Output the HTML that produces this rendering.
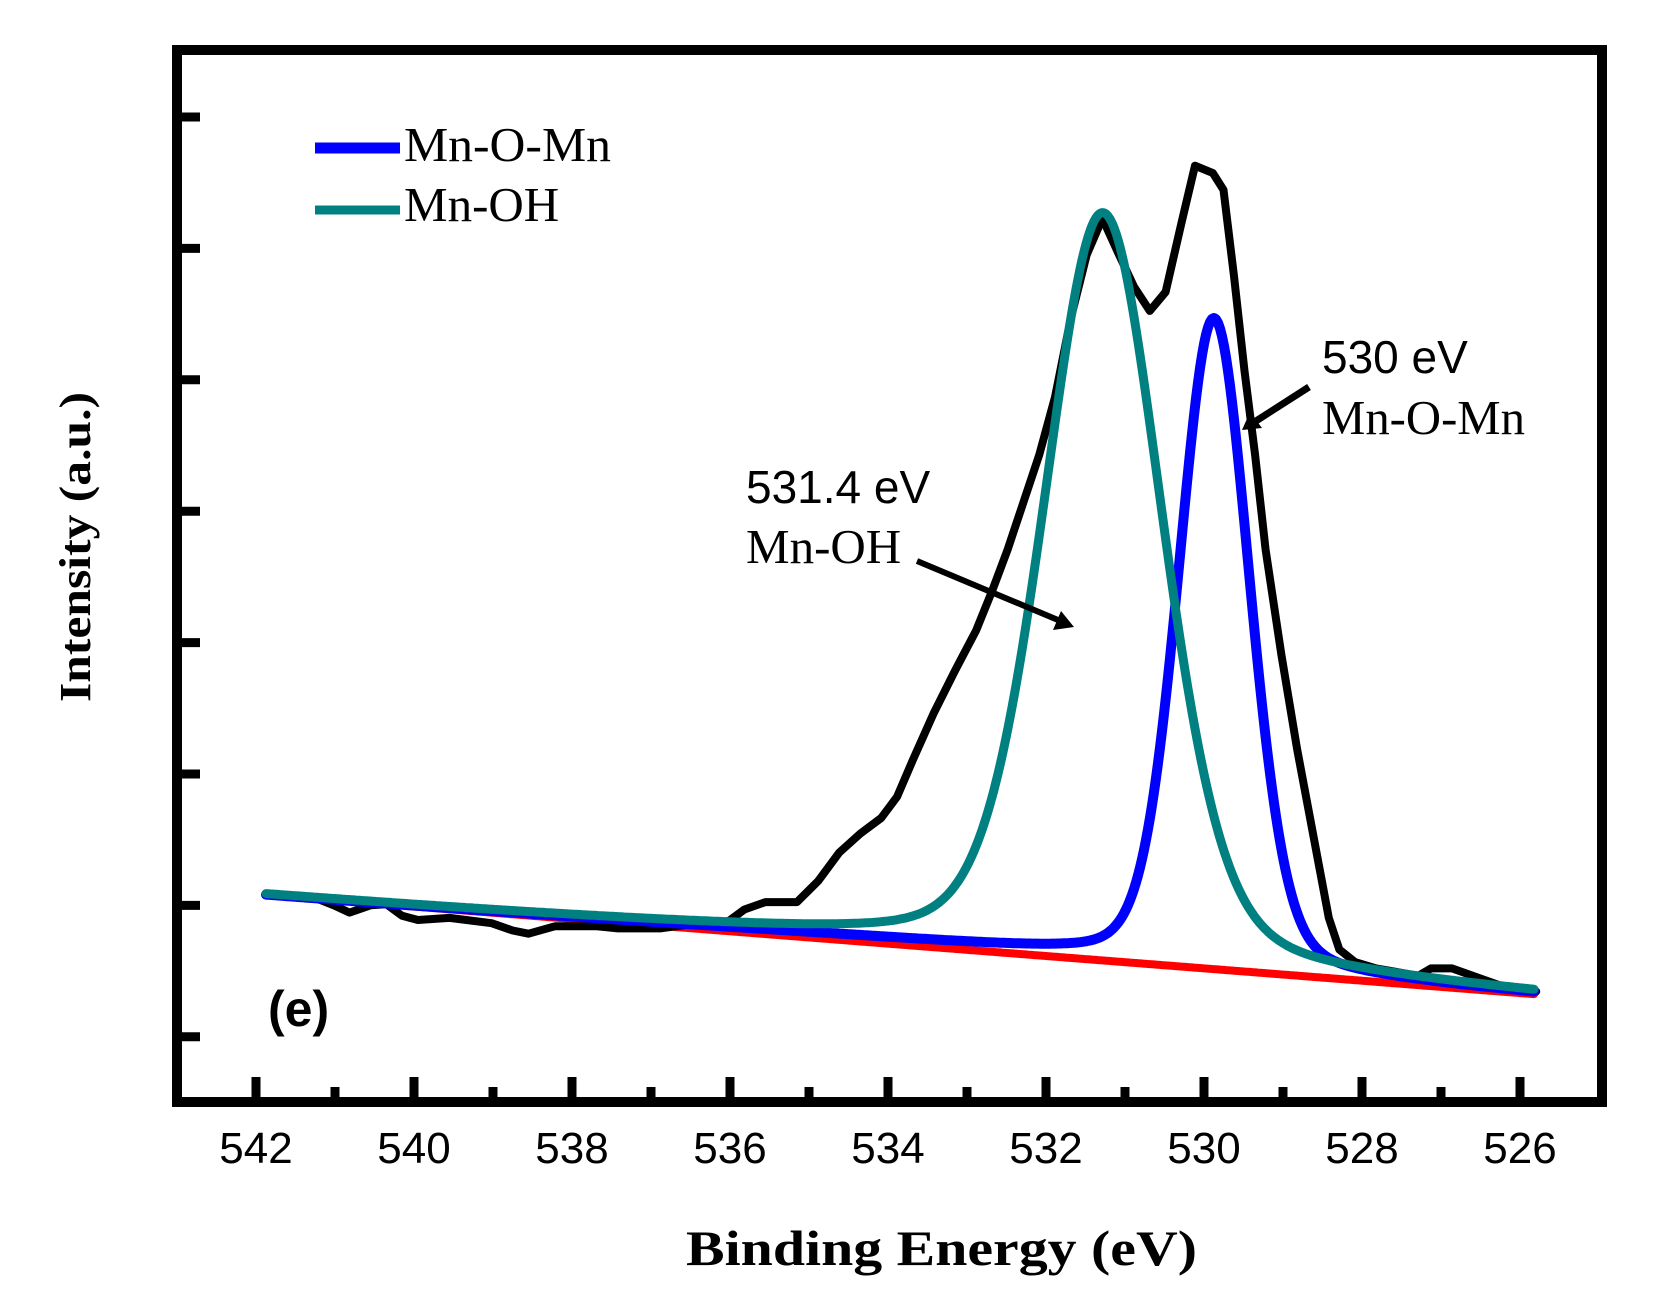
<!DOCTYPE html>
<html><head><meta charset="utf-8"><style>
html,body{margin:0;padding:0;background:#fff;}
svg{display:block;}
</style></head><body>
<svg id="s" width="1656" height="1310" viewBox="0 0 1656 1310" xmlns="http://www.w3.org/2000/svg">
<rect width="1656" height="1310" fill="#fff"/>
<g id="curves" fill="none" stroke-linejoin="round" stroke-linecap="round"></g>
<rect x="177" y="50" width="1425" height="1052" fill="none" stroke="#000" stroke-width="10"/>
<g id="ticks" stroke="#000" stroke-width="9"></g>
<g font-family="'Liberation Sans',sans-serif" font-size="44" text-anchor="middle" fill="#000">
<text x="256" y="1163">542</text><text x="414" y="1163">540</text><text x="572" y="1163">538</text>
<text x="730" y="1163">536</text><text x="888" y="1163">534</text><text x="1046" y="1163">532</text>
<text x="1204" y="1163">530</text><text x="1362" y="1163">528</text><text x="1520" y="1163">526</text>
</g>
<text x="686" y="1265" font-family="'Liberation Serif',serif" font-weight="bold" font-size="50" textLength="511" lengthAdjust="spacingAndGlyphs">Binding Energy (eV)</text>
<text transform="translate(90,702) rotate(-90)" font-family="'Liberation Serif',serif" font-weight="bold" font-size="44" textLength="310" lengthAdjust="spacingAndGlyphs">Intensity (a.u.)</text>
<text x="268" y="1026" font-family="'Liberation Sans',sans-serif" font-weight="bold" font-size="50">(e)</text>
<line x1="315" y1="148" x2="400" y2="148" stroke="#0000ff" stroke-width="11"/>
<line x1="315" y1="210" x2="400" y2="210" stroke="#008080" stroke-width="9"/>
<g font-family="'Liberation Serif',serif" font-size="49" fill="#000">
<text x="404" y="161" textLength="207" lengthAdjust="spacingAndGlyphs">Mn-O-Mn</text>
<text x="404" y="221">Mn-OH</text>
<text x="1322" y="434" textLength="203" lengthAdjust="spacingAndGlyphs">Mn-O-Mn</text>
<text x="746" y="563">Mn-OH</text>
</g>
<g font-family="'Liberation Sans',sans-serif" font-size="46" fill="#000">
<text x="1322" y="373">530 eV</text>
<text x="746" y="503">531.4 eV</text>
</g>
<line x1="1309" y1="387" x2="1256" y2="421" stroke="#000" stroke-width="7"/>
<polygon points="1242,430 1250,412 1262,428" fill="#000"/>
<line x1="917" y1="561" x2="1058" y2="620" stroke="#000" stroke-width="6"/>
<polygon points="1074,627 1053,630 1061,611" fill="#000"/>
</svg>
<script>
var NS="http://www.w3.org/2000/svg";
var t=document.getElementById('ticks');
function ln(g,x1,y1,x2,y2){var l=document.createElementNS(NS,'line');l.setAttribute('x1',x1);l.setAttribute('y1',y1);l.setAttribute('x2',x2);l.setAttribute('y2',y2);g.appendChild(l);}
for(var k=0;k<8;k++){var y=117+131.4*k;ln(t,182,y,200,y);}
for(var k=0;k<=16;k++){var x=256+79*k;ln(t,x,1097,x,k%2==0?1077:1087);}
function red(x){return 895+(x-266)/1266*99;}
function pv(x,c,w,eta){var d=(x-c)/w;return eta/(1+d*d)+(1-eta)*Math.exp(-Math.LN2*d*d);}
var g=document.getElementById('curves');
function path(pts,col,sw){var p=document.createElementNS(NS,'polyline');p.setAttribute('points',pts.map(function(a){return a[0].toFixed(1)+','+a[1].toFixed(1)}).join(' '));p.setAttribute('stroke',col);p.setAttribute('stroke-width',sw);g.appendChild(p);}
var R=[],B=[],T=[];
for(var x=266;x<=1534;x+=2){
 R.push([x,red(x)]);
 B.push([x,red(x)-5*Math.exp(-Math.pow((x-950)/380,2))-648*pv(x,1214,42,0.2)]);
 T.push([x,red(x)-4*Math.exp(-Math.pow((x-900)/350,2))-745*pv(x,1103,70,0.25)]);
}
path(R,'#ff0000',8);
var d=[[250,848],[290,850],[310,858],[325,865],[345,858],[360,857],[375,868],[390,872],[420,870],[460,875],[480,882],[495,885],[520,878],[560,878],[580,880],[620,880],[650,876],[685,873],[700,862],[720,855],[750,855],[770,835],[790,808],[810,790],[830,775],[845,755],[860,720],[880,675],[900,635],[920,597],[935,560],[950,520],[965,475],[980,430],[995,375],[1010,300],[1025,240],[1040,205],[1055,238],[1070,270],[1085,293],[1100,275],[1115,210],[1128,155],[1145,162],[1155,178],[1165,260],[1175,350],[1185,430],[1195,520],[1210,620],[1225,710],[1240,790],[1255,870],[1265,900],[1280,912],[1300,918],[1340,925],[1352,918],[1372,918],[1400,928],[1420,935],[1452,940]];
path(d.map(function(a){return [177+(a[0]-165)*1.053+4,50+(a[1]-45)*1.052];}),'#000',8);
path(B,'#0000ff',10);
path(T,'#008080',9);
</script>
</body></html>
